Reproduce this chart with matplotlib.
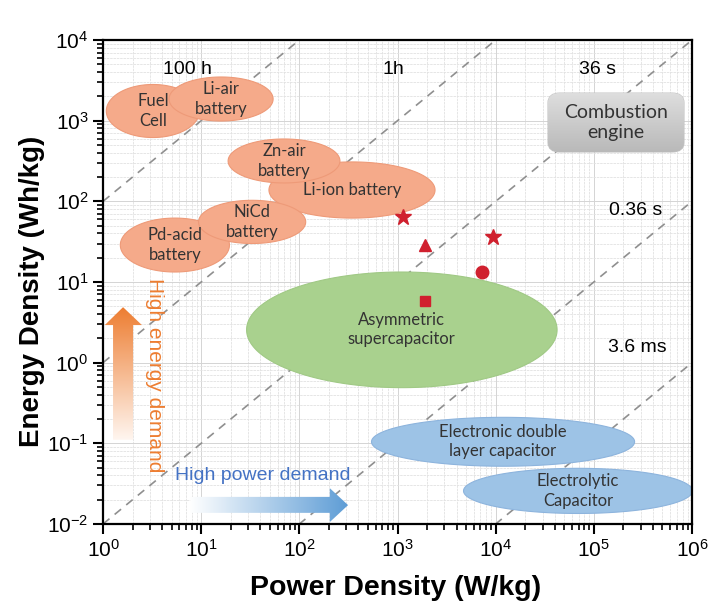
import numpy as np
import matplotlib
matplotlib.use("Agg")
import matplotlib.pyplot as plt
from matplotlib.patches import Polygon, FancyBboxPatch
from matplotlib.colors import LinearSegmentedColormap

plt.rcParams['font.family'] = ['Liberation Sans', 'DejaVu Sans']

# storage technologies: regions in the Ragone plot (W/kg, Wh/kg)
tech_names = ["Fuel\nCell", "Li-air\nbattery", "Li-ion battery", "Zn-air\nbattery",
              "Pd-acid\nbattery", "NiCd\nbattery", "Asymmetric\nsupercapacitor",
              "Electronic double\nlayer capacitor", "Electrolytic\nCapacitor"]
power_lo = [1.08, 4.7, 49, 18.8, 1.5, 9.4, 29, 543, 4700]
power_hi = [9.6, 54, 2410, 259, 19.4, 116, 42200, 260000, 1.01e6]
energy_lo = [618, 990, 62, 169, 13.3, 30, 0.49, 0.052, 0.0135]
energy_hi = [2810, 3480, 308, 593, 62, 103, 13.3, 0.21, 0.049]
tech_kind = ["bat", "bat", "bat", "bat", "bat", "bat", "asym", "cap", "cap"]

# combustion engine box
engine_power = [34100, 828000]
engine_energy = [409, 2200]

# this work (red markers)
pt_power = [1140, 1900, 9400, 7260, 1900]
pt_energy = [64, 28.8, 36, 13.3, 5.8]
pt_marker = ['*', '^', '*', 'o', 's']

# discharge time lines E = t * P  (t in h)
time_h = [100, 1, 0.01, 1e-4, 1e-6]
time_labels = ["100 h", "1h", "36 s", "0.36 s", "3.6 ms"]
label_pos = [(7.2, 4250), (900, 4250), (1.08e5, 4250), (2.69e5, 78), (2.75e5, 1.56)]

fill_col = {"bat": "#F5AA8A", "asym": "#A9D18E", "cap": "#9DC3E6"}
edge_col = {"bat": "#EE9A78", "asym": "#A0C985", "cap": "#8DB4DD"}

fig = plt.figure(figsize=(7.19, 6.09), dpi=100)
ax = fig.add_axes([0.1433, 0.1396, 0.8192, 0.7947])
ax.set_xscale('log')
ax.set_yscale('log')
ax.set_xlim(1, 1e6)
ax.set_ylim(1e-2, 1e4)
ax.set_autoscale_on(False)

ax.grid(True, which='major', color='#d4d4d4', lw=0.7, zorder=0)
ax.grid(True, which='minor', color='#e2e2e2', lw=0.6, ls=(0, (3, 1)), zorder=0)
ax.set_axisbelow(True)

# time lines
p = np.logspace(0, 6, 200)
for t in time_h:
    ax.plot(p, t * p, color='#8f8f8f', lw=1.2, ls=(0, (5, 4)), zorder=1)
for lab, (x, y) in zip(time_labels, label_pos):
    ax.text(x, y, lab, fontsize=14, ha='center', va='center', zorder=3)

# ellipses in log space
th = np.linspace(0, 2 * np.pi, 200)
for i in range(len(tech_names)):
    lx0, lx1 = np.log10(power_lo[i]), np.log10(power_hi[i])
    ly0, ly1 = np.log10(energy_lo[i]), np.log10(energy_hi[i])
    cx, cy = (lx0 + lx1) / 2, (ly0 + ly1) / 2
    a, b = (lx1 - lx0) / 2, (ly1 - ly0) / 2
    k = tech_kind[i]
    ax.fill(10 ** (cx + a * np.cos(th)), 10 ** (cy + b * np.sin(th)),
            facecolor=fill_col[k], edgecolor=edge_col[k], lw=0.8, zorder=2,
            clip_on=False)
    ax.text(10 ** cx, 10 ** cy, tech_names[i], fontsize=12, family=['Lato', 'DejaVu Sans'],
            color='#333333', ha='center', va='center', linespacing=1.25, zorder=3)


def grad_fill(patch, extent, c0, c1, horizontal, z):
    ax.add_patch(patch)
    g = np.linspace(0, 1, 256)
    arr = g[None, :] if horizontal else g[:, None]
    cm = LinearSegmentedColormap.from_list('g', [c0, c1])
    im = ax.imshow(arr, cmap=cm, extent=extent, origin='lower', aspect='auto',
                   transform=ax.transAxes, zorder=z, interpolation='bilinear')
    im.set_clip_path(patch)


# combustion engine box (axes fraction from log values)
ex0, ex1 = np.log10(engine_power[0]) / 6, np.log10(engine_power[1]) / 6
ey0, ey1 = (np.log10(engine_energy[0]) + 2) / 6, (np.log10(engine_energy[1]) + 2) / 6
box = FancyBboxPatch((ex0, ey0), ex1 - ex0, ey1 - ey0, boxstyle='round,pad=0,rounding_size=0.02',
                     transform=ax.transAxes, facecolor='none', edgecolor='#c4c4c4', lw=0.8, zorder=2)
grad_fill(box, [ex0, ex1, ey0, ey1], '#b9b9b9', '#dedede', False, 2)
ax.text((ex0 + ex1) / 2, (ey0 + ey1) / 2, "Combustion\nengine", transform=ax.transAxes,
        fontsize=14, family=['Lato', 'DejaVu Sans'], color='#333333', ha='center', va='center',
        linespacing=1.25, zorder=3)

# demand arrows
up = Polygon([(0.017, 0.174), (0.051, 0.174), (0.051, 0.411), (0.066, 0.411), (0.034, 0.448),
              (0.003, 0.411), (0.017, 0.411)], closed=True, transform=ax.transAxes,
             facecolor='none', edgecolor='none')
grad_fill(up, [0.0, 0.07, 0.174, 0.448], '#fff6f0', '#ED7D31', False, 3)
ax.text(0.088, 0.308, "High energy demand", transform=ax.transAxes, rotation=-90,
        color='#ED7D31', fontsize=15, ha='center', va='center', zorder=3)

right = Polygon([(0.148, 0.023), (0.385, 0.023), (0.385, 0.004), (0.416, 0.039),
                 (0.385, 0.074), (0.385, 0.056), (0.148, 0.056)], closed=True,
                transform=ax.transAxes, facecolor='none', edgecolor='none')
grad_fill(right, [0.148, 0.42, 0.0, 0.08], '#ffffff', '#5B9BD5', True, 3)
ax.text(0.272, 0.101, "High power demand", transform=ax.transAxes,
        color='#4472C4', fontsize=14, ha='center', va='center', zorder=3)

# markers
for x, y, m in zip(pt_power, pt_energy, pt_marker):
    ms = {'*': 12, '^': 9, 'o': 9, 's': 7}[m]
    ax.plot(x, y, marker=m, ms=ms, color='#D0202E', ls='none', zorder=4)

ax.set_xlim(1, 1e6)
ax.set_ylim(1e-2, 1e4)

for s in ax.spines.values():
    s.set_linewidth(1.6)
ax.tick_params(which='major', direction='out', length=7, width=1.5, labelsize=15)
ax.tick_params(which='minor', direction='out', length=4, width=1.2)
ax.set_xlabel("Power Density (W/kg)", fontsize=20.5, fontweight='bold')
ax.set_ylabel("Energy Density (Wh/kg)", fontsize=20, fontweight='bold')
ax.xaxis.set_label_coords(0.497, -0.105)
ax.yaxis.set_label_coords(-0.098, 0.481)

fig.savefig("out.png", dpi=100)
